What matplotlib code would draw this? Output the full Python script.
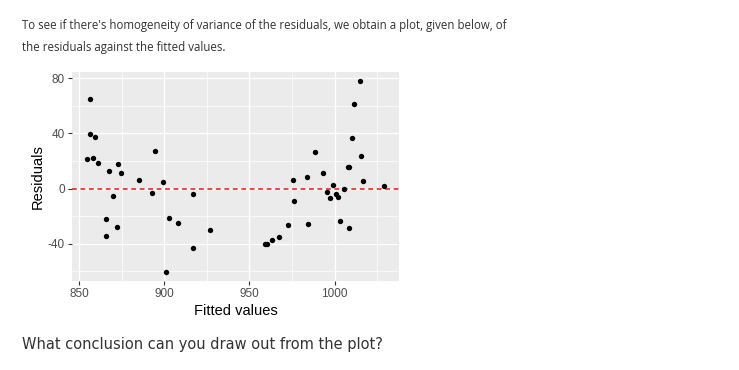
import matplotlib.pyplot as plt
from matplotlib.ticker import MultipleLocator

# Residuen gegen angepasste Werte
fitted = [854.9, 856.6, 856.6, 859.6, 858.4, 861.3, 867.8, 870.1, 866.0, 866.0,
          873.0, 874.8, 872.5, 885.4, 893.0, 894.7, 899.4, 902.9, 908.2, 901.2,
          917.0, 917.0, 927.0, 959.4, 960.4, 963.5, 967.6, 972.9, 975.8, 976.4,
          984.0, 984.6, 988.7, 993.4, 995.7, 997.5, 999.2, 1001.0, 1002.1, 1003.3,
          1005.7, 1007.9, 1008.6, 1008.6, 1010.4, 1011.5, 1015.0, 1015.6, 1016.8, 1029.1]
residuals = [21.1, 64.7, 39.3, 37.1, 22.5, 18.2, 12.4, -5.1, -21.8, -34.2,
             17.5, 11.6, -27.6, 6.5, -2.9, 27.6, 5.1, -21.1, -24.7, -60.4,
             -3.6, -42.9, -29.8, -40.0, -40.0, -37.1, -34.9, -26.2, 6.5, -8.7,
             8.7, -25.5, 26.2, 11.6, -2.2, -6.5, 2.9, -3.6, -5.8, -23.3,
             0.0, 15.3, 15.3, -28.4, 36.4, 61.1, 77.8, 23.3, 5.8, 1.5]

xticks = [850, 900, 950, 1000]
yticks = [-40, 0, 40, 80]

plt.rcParams['axes.unicode_minus'] = False
plt.rcParams['font.family'] = ['Liberation Sans', 'DejaVu Sans']

fig = plt.figure(figsize=(7.39, 3.70), dpi=100)
ax = fig.add_axes([0.0974, 0.2405, 0.4425, 0.565])

ax.set_facecolor('#EBEBEB')
for s in ax.spines.values():
    s.set_visible(False)

ax.xaxis.set_major_locator(MultipleLocator(50))
ax.xaxis.set_minor_locator(MultipleLocator(25))
ax.yaxis.set_major_locator(MultipleLocator(40))
ax.yaxis.set_minor_locator(MultipleLocator(20))
ax.grid(which='major', color='white', linewidth=1.0)
ax.grid(which='minor', color='white', linewidth=0.5)
ax.set_axisbelow(True)

ax.scatter(fitted, residuals, s=15, color='black', zorder=3, linewidths=0)
ax.axhline(0, color='#E02222', linestyle=(0, (3.0, 2.3)), linewidth=1.15, zorder=2)

ax.set_xlim(845.9, 1037.8)
ax.set_ylim(-67.1, 84.6)
ax.set_xticks(xticks)
ax.set_yticks(yticks)
ax.tick_params(which='major', length=3, width=0.8, color='#333333',
               labelcolor='#4D4D4D', labelsize=8.5, pad=2)
ax.tick_params(which='minor', length=0)
ax.set_xlabel('Fitted values', fontsize=10.5, color='black', labelpad=3)
ax.set_ylabel('Residuals', fontsize=10.5, color='black', labelpad=2)

txt = '#333333'
fig.text(22 / 739, 1 - 29 / 370, "To see if there's homogeneity of variance of the residuals, we obtain a plot, given below, of",
         fontsize=8.3, color=txt, family='Open Sans', va='baseline')
fig.text(22 / 739, 1 - 51 / 370, "the residuals against the fitted values.",
         fontsize=8.3, color=txt, family='Open Sans', va='baseline')
fig.text(22 / 739, 1 - 349 / 370, "What conclusion can you draw out from the plot?",
         fontsize=10.5, color=txt, family='DejaVu Sans', va='baseline')

fig.savefig('out.png', dpi=100)
